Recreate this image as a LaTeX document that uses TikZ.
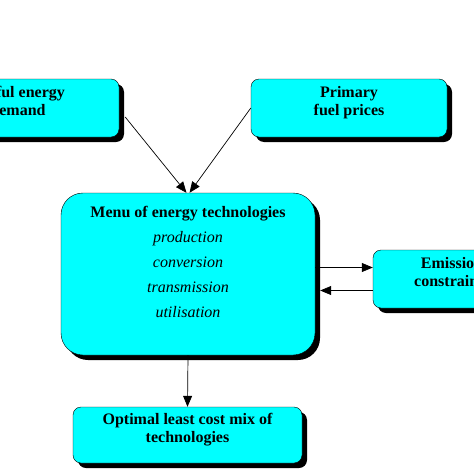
\documentclass[tikz,border=0pt]{standalone}
\usepackage{fontspec}
\setmainfont{Liberation Serif}
\usetikzlibrary{arrows.meta}
\usetikzlibrary{shadows}

\definecolor{ciano}{RGB}{0,255,255}

\tikzset{
  riquadro/.style={draw=black, fill=ciano, rounded corners=8pt, align=center,
    font=\fontsize{16}{18}\selectfont\bfseries, text depth=15pt,
    drop shadow={shadow xshift=5pt, shadow yshift=-5pt, fill=black, opacity=1}},
  freccia/.style={-{Triangle[length=11pt,width=9pt]}, line width=0.7pt}
}

\begin{document}
\begin{tikzpicture}[x=1pt,y=-1pt]

\useasboundingbox (0,0) rectangle (474,474);
\clip (0,0) rectangle (474,474);

% riquadri in alto
\node[riquadro, minimum width=202pt, minimum height=58pt] (domanda) at (18,108) {Useful energy\\demand};
\node[riquadro, minimum width=196pt, minimum height=58pt] (prezzi) at (349,108) {Primary\\fuel prices};

% riquadro centrale
\node[riquadro, rounded corners=22pt, minimum width=254pt, minimum height=162pt, inner sep=0pt, text depth=] (menu) at (188,274)
{\parbox[c][150pt][t]{240pt}{\centering\fontsize{16}{25}\selectfont
\vspace*{7pt}Menu of energy technologies\\
\itshape\mdseries production\\ conversion\\ transmission\\ utilisation}};

\node[riquadro, minimum width=158pt, minimum height=58pt] (emissioni) at (452,279) {Emission\\constraints}; % vincoli
\node[riquadro, minimum width=229pt, minimum height=56pt] (ottimo) at (187.5,435) {Optimal least cost mix of\\technologies}; % risultato

% frecce
\draw[freccia] ([shift={(6,9)}]domanda.east) -- ([xshift=-1.5pt]menu.north);
\draw[freccia] (prezzi.west) -- ([xshift=1.5pt]menu.north);
\draw[freccia] (menu.south) -- (ottimo.north);

\coordinate (va) at ([yshift=11.5pt]emissioni.west);
\coordinate (vb) at ([yshift=-11.5pt]emissioni.west);
\coordinate (bordo) at ([xshift=5pt]menu.east);
\draw[freccia] (menu.east |- va) -- (va);
\draw[freccia] (vb) -- (bordo |- vb);

\end{tikzpicture}
\end{document}
